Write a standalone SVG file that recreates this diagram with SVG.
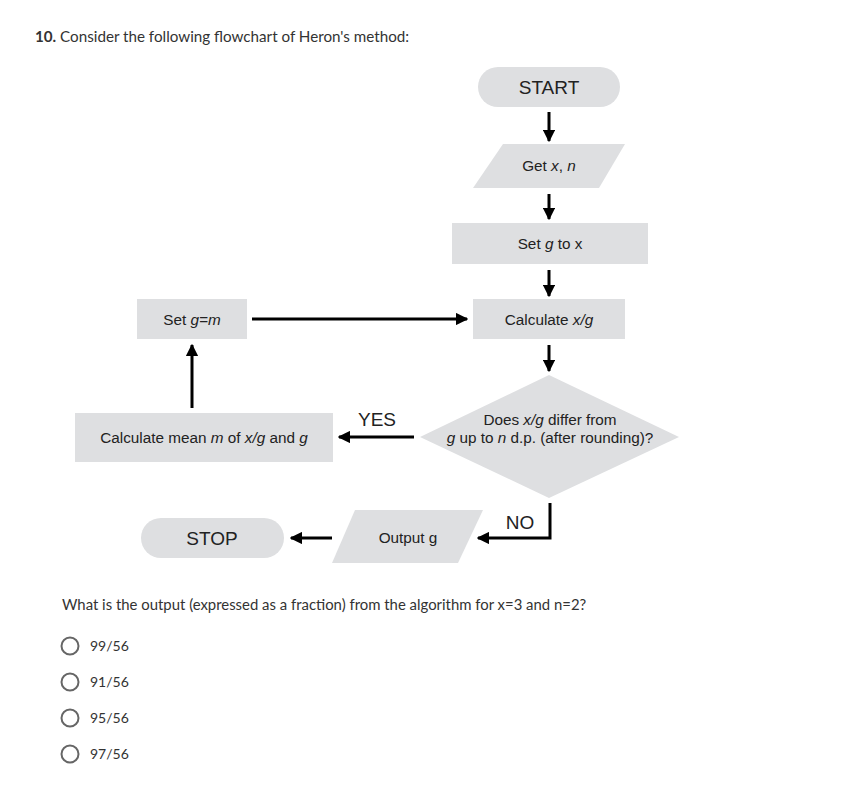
<svg xmlns="http://www.w3.org/2000/svg" width="843" height="806" viewBox="0 0 843 806">
<defs>
<marker id="ah" viewBox="0 0 10 10" refX="9" refY="5" markerWidth="4.2" markerHeight="4.2" markerUnits="strokeWidth" orient="auto">
<path d="M0,0 L10,5 L0,10 z" fill="#000"/>
</marker>
</defs>
<style>
.shape{fill:#dedfe1;}
.fc{font-family:"Liberation Sans",Arial,sans-serif;fill:#222;text-anchor:middle;}
.big{font-size:19px;}
.mid{font-size:15.3px;}
.conn{stroke:#000;stroke-width:3;fill:none;}
.q{font-family:Lato,"Noto Sans",sans-serif;fill:#333;font-size:14.9px;}
.opt{font-size:14px;}
.radio{fill:#fff;stroke:#666;stroke-width:2;}
</style>
<rect width="843" height="806" fill="#fff"/>
<text class="q" x="35" y="42" style="font-size:15.2px"><tspan font-weight="bold">10.</tspan> Consider the following flowchart of Heron's method:</text>

<g id="start">
<rect class="shape" x="478" y="67" width="142" height="40" rx="20"/>
<text class="fc big" x="549" y="94">START</text>
</g>
<g id="get">
<polygon class="shape" points="503,144 625,144 599,188 473,188"/>
<text class="fc mid" x="549" y="171">Get <tspan font-style="italic">x</tspan>, <tspan font-style="italic">n</tspan></text>
</g>
<g id="setgx">
<rect class="shape" x="452" y="223" width="196" height="41"/>
<text class="fc mid" x="550" y="249">Set <tspan font-style="italic">g</tspan> to x</text>
</g>
<g id="calc">
<rect class="shape" x="473" y="299" width="152" height="40"/>
<text class="fc mid" x="549" y="325">Calculate <tspan font-style="italic">x/g</tspan></text>
</g>
<g id="decision">
<polygon class="shape" points="549,375 679,437 549,498 420,437"/>
<text class="fc mid" x="550" y="425">Does <tspan font-style="italic">x/g</tspan> differ from</text>
<text class="fc mid" x="550" y="443"><tspan font-style="italic">g</tspan> up to <tspan font-style="italic">n</tspan> d.p. (after rounding)?</text>
</g>
<g id="mean">
<rect class="shape" x="75" y="413" width="258" height="49"/>
<text class="fc mid" x="204" y="443">Calculate mean <tspan font-style="italic">m</tspan> of <tspan font-style="italic">x/g</tspan> and <tspan font-style="italic">g</tspan></text>
</g>
<g id="setgm">
<rect class="shape" x="137" y="299" width="110" height="40"/>
<text class="fc mid" x="192" y="325">Set <tspan font-style="italic">g=m</tspan></text>
</g>
<g id="output">
<polygon class="shape" points="355,510 483,510 458,563 332,563"/>
<text class="fc mid" x="408" y="543">Output g</text>
</g>
<g id="stop">
<rect class="shape" x="141" y="518" width="143" height="40" rx="20"/>
<text class="fc big" x="212" y="545">STOP</text>
</g>

<g id="connectors">
<line class="conn" x1="549" y1="112" x2="549" y2="141" marker-end="url(#ah)"/>
<line class="conn" x1="549" y1="194" x2="549" y2="219" marker-end="url(#ah)"/>
<line class="conn" x1="549" y1="270" x2="549" y2="296" marker-end="url(#ah)"/>
<line class="conn" x1="549" y1="345" x2="549" y2="371" marker-end="url(#ah)"/>
<line class="conn" x1="414" y1="437" x2="339" y2="437" marker-end="url(#ah)"/>
<line class="conn" x1="192" y1="408" x2="192" y2="345" marker-end="url(#ah)"/>
<line class="conn" x1="252" y1="319" x2="467" y2="319" marker-end="url(#ah)"/>
<polyline class="conn" points="550,503 550,538 478,538" marker-end="url(#ah)"/>
<line class="conn" x1="332" y1="538" x2="291" y2="538" marker-end="url(#ah)"/>
<text class="fc big" x="377" y="426">YES</text>
<text class="fc big" x="520" y="529">NO</text>
</g>

<text class="q" x="62" y="610">What is the output (expressed as a fraction) from the algorithm for x=3 and n=2?</text>
<g id="options">
<circle class="radio" cx="70" cy="646" r="8.5"/>
<text class="q opt" x="90" y="651">99/56</text>
<circle class="radio" cx="70" cy="682" r="8.5"/>
<text class="q opt" x="90" y="687">91/56</text>
<circle class="radio" cx="70" cy="718" r="8.5"/>
<text class="q opt" x="90" y="723">95/56</text>
<circle class="radio" cx="70" cy="754" r="8.5"/>
<text class="q opt" x="90" y="759">97/56</text>
</g>
</svg>
